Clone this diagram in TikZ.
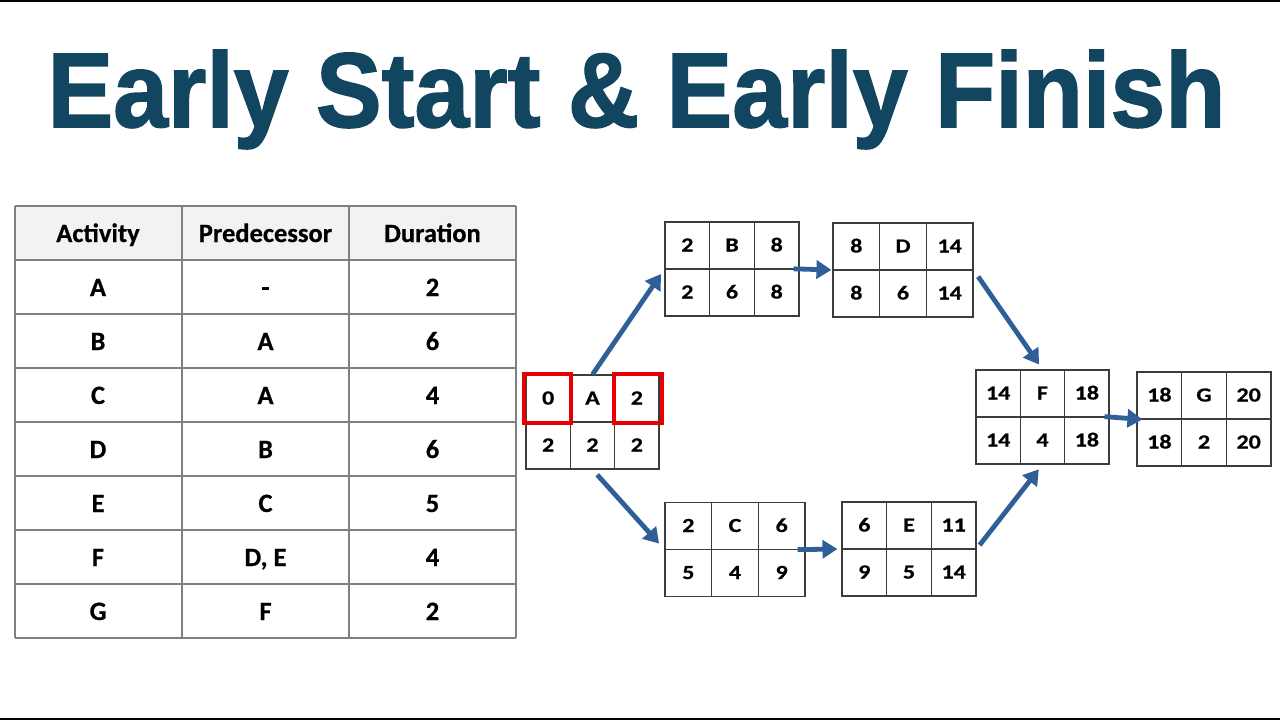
\documentclass[tikz,border=0pt]{standalone}
\usepackage{fontspec}
\usepackage{graphicx}
\setmainfont{Carlito}[BoldFeatures={FakeBold=0.5}]
\newfontfamily\titlefont{Liberation Sans}[BoldFeatures={FakeBold=1.5}]
\usetikzlibrary{arrows.meta,calc}
\definecolor{titleblue}{RGB}{18,70,96}
\definecolor{arrowblue}{RGB}{46,95,152}
\definecolor{gridgray}{RGB}{128,128,128}
\definecolor{cellgray}{RGB}{60,60,60}
\definecolor{headfill}{RGB}{242,242,242}
\definecolor{boxred}{RGB}{232,0,0}
\tikzset{
  actbox/.style={draw=cellgray, line width=1.1pt, minimum height=94pt, inner sep=0pt, fill=white},
  cellgrid/.style={draw=cellgray, line width=1.1pt},
  celltext/.style={font=\fontsize{20}{22}\selectfont\bfseries, inner sep=0pt, text=black, anchor=base},
  tabtext/.style={font=\fontsize{26.5}{28}\selectfont\bfseries, inner sep=0pt, text=black, anchor=base},
  tabline/.style={draw=gridgray, line width=1.2pt},
  arr/.style={draw=arrowblue, line width=4.8pt, -{Triangle[length=15pt,width=18pt]}},
  redbox/.style={draw=boxred, line width=4pt},
}
\newcommand\ctxt[1]{\scalebox{1.2}[1]{#1}}
% #1 name, #2 centre "x,y", #3 width, #4-#9 cell texts
\newcommand\ActBox[9]{%
  \node[actbox, minimum width=#3pt] (#1) at (#2) {};
  \draw[cellgrid] ($(#1.north)+(-#3/6,0)$) -- ($(#1.south)+(-#3/6,0)$)
                  ($(#1.north)+(#3/6,0)$) -- ($(#1.south)+(#3/6,0)$)
                  (#1.west) -- (#1.east);
  \node[celltext] (#1-1) at ($(#1.center)+(-#3/3,-17.5)$) {\ctxt{#4}};
  \node[celltext] (#1-2) at ($(#1.center)+(0,-17.5)$) {\ctxt{#5}};
  \node[celltext] (#1-3) at ($(#1.center)+(#3/3,-17.5)$) {\ctxt{#6}};
  \node[celltext] (#1-4) at ($(#1.center)+(-#3/3,29.5)$) {\ctxt{#7}};
  \node[celltext] (#1-5) at ($(#1.center)+(0,29.5)$) {\ctxt{#8}};
  \node[celltext] (#1-6) at ($(#1.center)+(#3/3,29.5)$) {\ctxt{#9}};
}
\begin{document}
\begin{tikzpicture}[x=1pt,y=-1pt]
\fill[white] (0,0) rectangle (1280,720);
\useasboundingbox (0,0) rectangle (1280,720);
\draw[black, line width=1.5pt] (0,0.75) -- (1280,0.75);
\draw[black, line width=2pt] (0,718.5) -- (1280,718.5);

% title
\node[inner sep=0pt, text=titleblue] (title) at (636.5,99.5)
  {\resizebox*{1177pt}{99pt}{\titlefont\bfseries Early Start \& Early Finish}};

% table
\fill[headfill] (15,206) rectangle (516,260);
\foreach \yy in {206,260,314,368,422,476,530,584,638}
  \draw[tabline] (15,\yy) -- (516,\yy);
\foreach \xx in {15,182,349,516}
  \draw[tabline] (\xx,206) -- (\xx,638);
\node[tabtext] (h1) at (98,242) {Activity};
\node[tabtext] (h2) at (265.5,242) {Predecessor};
\node[tabtext] (h3) at (432.5,242) {Duration};
\foreach \act/\pre/\dur [count=\i] in {A/-/2, B/A/6, C/A/4, D/B/6, E/C/5, F/{D, E}/4, G/F/2}{
  \node[tabtext] (r\i a) at (98,242+54*\i) {\act};
  \node[tabtext] (r\i b) at (265.5,242+54*\i) {\pre};
  \node[tabtext] (r\i c) at (432.5,242+54*\i) {\dur};
}

% network
\ActBox{A}{592.5,422}{133}{0}{A}{2}{2}{2}{2}
\ActBox{B}{732,269}{134}{2}{B}{8}{2}{6}{8}
\ActBox{D}{903,270}{140}{8}{D}{14}{8}{6}{14}
\ActBox{C}{735,549.5}{140}{2}{C}{6}{5}{4}{9}
\ActBox{E}{909,549}{134}{6}{E}{11}{9}{5}{14}
\ActBox{F}{1042.5,417}{133}{14}{F}{18}{14}{4}{18}
\ActBox{G}{1204,419}{134}{18}{G}{20}{18}{2}{20}

\draw[redbox] (524,374) rectangle (571,423);
\draw[redbox] (614,374) rectangle (662,423);

\draw[arr, shorten >=6pt] (A.north) -- (B.west);
\draw[arr, shorten <=7pt, shorten >=8pt] (A.south) -- (C.west);
\draw[arr, shorten <=-6pt, shorten >=1pt] (B.east) -- (D.west);
\draw[arr, shorten <=-8pt, shorten >=4pt] (C.east) -- (E.west);
\draw[arr, shorten <=8pt, shorten >=6pt] (D.east) -- (F.north);
\draw[arr, shorten <=5pt, shorten >=6pt] (E.east) -- (F.south);
\draw[arr, shorten <=-5pt, shorten >=-6pt] (F.east) -- (G.west);
\end{tikzpicture}
\end{document}
